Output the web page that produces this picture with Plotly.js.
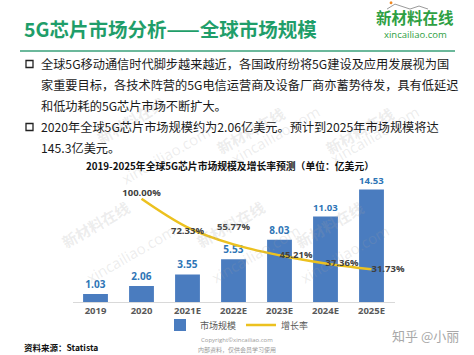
<!DOCTYPE html>
<html><head><meta charset="utf-8">
<script src="https://cdn.plot.ly/plotly-3.0.1.min.js"></script>
<style>html,body{margin:0;padding:0;background:#fff;}#c{width:474px;height:355px;}</style>
</head><body><div id="c"></div>
<script>
const categories = ['2019','2020','2021E','2022E','2023E','2024E','2025E'];
const marketSize = [1.03, 2.06, 3.55, 5.53, 8.03, 11.03, 14.53];
const growthCategories = ['2020','2021E','2022E','2023E','2024E','2025E'];
const growthRate = [100.00, 72.33, 55.77, 45.21, 37.36, 31.73];
const growthLabelPos = ['top center','bottom center','top center','middle right','middle right','middle right'];

const CJK = '"Noto Sans CJK SC", "Noto Sans", sans-serif';
const NUM = '"Open Sans", "Noto Sans", sans-serif';

// label for 2022E sits a little higher, clear of the bar label below
const growthText = growthRate.map((v, i) => v.toFixed(2) + '%' + (i === 2 ? '<br> ' : ''));

const traces = [
  {
    type: 'bar', name: '市场规模', x: categories, y: marketSize,
    marker: {color: '#4a7cbf'},
    text: marketSize.map(v => v.toFixed(2)), textposition: 'outside',
    textfont: {family: NUM, size: 10, color: '#2e75b6', weight: 'bold'},
    cliponaxis: false, hoverinfo: 'skip'
  },
  {
    type: 'scatter', mode: 'lines+text', name: '增长率', x: growthCategories, y: growthRate,
    yaxis: 'y2', line: {color: '#ecc11f', width: 2.5, shape: 'spline', smoothing: 1},
    text: growthText, textposition: growthLabelPos,
    textfont: {family: NUM, size: 9.5, color: '#404040', weight: 'bold'},
    cliponaxis: false, hoverinfo: 'skip'
  }
];

const wm = [];
const wmPts = [[55,255],[230,255],[370,255],[90,120],[250,100],[400,100]];
wmPts.forEach(p => {
  wm.push({xref:'paper',yref:'paper',x:p[0]/474,y:1-p[1]/355,text:'新材料在线',showarrow:false,textangle:-30,
    font:{family:CJK,size:15,color:'rgba(160,160,160,0.2)',weight:'bold'}});
  wm.push({xref:'paper',yref:'paper',x:(p[0]+25)/474,y:1-(p[1]+35)/355,text:'xincailiao.com',showarrow:false,textangle:-30,
    font:{family:NUM,size:15,color:'rgba(160,160,160,0.2)'}});
});

function A(x, y, text, font, xanchor) {
  return {xref:'paper', yref:'paper', x: x/474, y: 1 - y/355, text: text, showarrow: false,
    xanchor: xanchor || 'left', yanchor: 'middle', font: font};
}
const body = {family: CJK, size: 12.2, color: '#1a1a1a'};
const annotations = wm.concat([
  A(22, 28, '5G芯片市场分析——全球市场规模', {family: CJK, size: 19.5, color: '#1f9e6a', weight: 'bold'}),
  A(415, 16.5, '新材料在线', {family: CJK, size: 15.5, color: '#2ea043', weight: 'bold'}, 'center'),
  A(415, 35, 'xincailiao.com', {family: NUM, size: 9.5, color: '#2ea043'}, 'center'),
  A(39, 64, '全球5G移动通信时代脚步越来越近，各国政府纷将5G建设及应用发展视为国', body),
  A(39, 85, '家重要目标，各技术阵营的5G电信运营商及设备厂商亦蓄势待发，具有低延迟', body),
  A(39, 106, '和低功耗的5G芯片市场不断扩大。', body),
  A(39, 127, '2020年全球5G芯片市场规模约为2.06亿美元。预计到2025年市场规模将达', body),
  A(39, 148, '145.3亿美元。', body),
  A(230, 166, '2019-2025年全球5G芯片市场规模及增长率预测（单位：亿美元）', {family: CJK, size: 9.8, color: '#111', weight: 'bold'}, 'center'),
  A(22, 347, '资料来源：Statista', {family: CJK, size: 8.5, color: '#111', weight: 'bold'}),
  A(237, 340, 'Copyright©xincailiao.com', {family: NUM, size: 6, color: '#9a9a9a'}, 'center'),
  A(237, 349, '内部资料，仅供会员学习使用', {family: CJK, size: 6, color: '#9a9a9a'}, 'center'),
  A(425, 335, '知乎 @小丽', {family: CJK, size: 13, color: '#a8a8a8'}, 'center')
]);

const shapes = [
  {type:'line', xref:'paper', yref:'paper', x0:20/474, x1:455/474, y0:1-51/355, y1:1-51/355, line:{color:'#3aa07a', width:1.5}},
  {type:'rect', xref:'paper', yref:'paper', x0:26/474, x1:33/474, y0:1-67.5/355, y1:1-60.5/355, line:{color:'#222', width:1.3}},
  {type:'rect', xref:'paper', yref:'paper', x0:26/474, x1:33/474, y0:1-130.5/355, y1:1-123.5/355, line:{color:'#222', width:1.3}},
  {type:'path', xref:'paper', yref:'paper', path:'M 0.8165 0.9745 L 0.8333 0.9885 L 0.8650 0.9745 L 0.8840 0.9830 L 0.9030 0.9745', line:{color:'#9a9a9a', width:1}},
  {type:'circle', xref:'paper', yref:'paper', x0:0.8220, x1:0.8280, y0:0.9880, y1:0.9965, fillcolor:'#f08a24', line:{width:0}}
];

const layout = {
  width: 474, height: 355, margin: {l:0, r:0, t:0, b:0},
  paper_bgcolor: '#fff', plot_bgcolor: 'rgba(0,0,0,0)',
  showlegend: true,
  legend: {orientation:'h', x:0.5, xanchor:'center', y:1-325/355, yanchor:'middle',
    font:{family:CJK, size:9, color:'#595959'}, itemwidth:30, bgcolor:'rgba(0,0,0,0)'},
  bargap: 0.46,
  xaxis: {domain:[72.5/474, 394.5/474], range:[-0.5, 6.5], type:'category', fixedrange:true,
    showline:true, linecolor:'#d9d9d9', linewidth:1, ticks:'', showgrid:false, zeroline:false,
    tickfont:{family:NUM, size:9.5, color:'#595959', weight:'bold'}},
  yaxis: {domain:[1-302/355, 1-178/355], range:[0,16], visible:false, showgrid:false, zeroline:false},
  yaxis2: {overlaying:'y', side:'right', range:[0,120], visible:false, showgrid:false, zeroline:false},
  annotations: annotations, shapes: shapes
};
Plotly.newPlot('c', traces, layout, {staticPlot:true, displayModeBar:false});
</script></body></html>
